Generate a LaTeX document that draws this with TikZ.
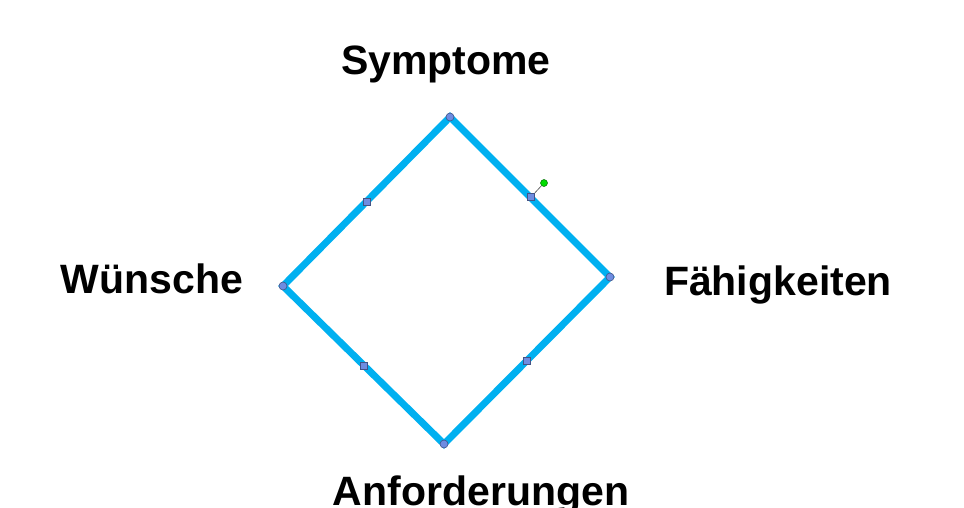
\documentclass[tikz,border=0pt]{standalone}
\usepackage{fontspec}
\setmainfont{Liberation Sans}
\definecolor{rahmen}{RGB}{0,176,240}
\definecolor{griff}{RGB}{110,140,225}
\definecolor{dreh}{RGB}{0,220,0}
\tikzset{
  ecke/.style={circle,draw=griff!60!black,fill=griff,inner sep=0pt,minimum size=8pt,line width=0.6pt},
  mitte/.style={rectangle,draw=griff!60!black,fill=griff,inner sep=0pt,minimum size=7.5pt,line width=0.6pt},
  titel/.style={anchor=base,font=\bfseries\fontsize{41}{48}\selectfont,inner sep=0pt}
}
\begin{document}
\begin{tikzpicture}[x=1pt,y=-1pt]
  \useasboundingbox (0,0) rectangle (964,507);
  \coordinate (o) at (450,117);
  \coordinate (r) at (610,277);
  \coordinate (u) at (444,444);
  \coordinate (l) at (283,286);
  \draw[rahmen,line width=7pt,line join=miter] (o) -- (r) -- (u) -- (l) -- cycle;
  \node[ecke] (eo) at (o) {};
  \node[ecke] (er) at (r) {};
  \node[ecke] (eu) at (u) {};
  \node[ecke] (el) at (l) {};
  \node[mitte] (mor) at (531,197) {};
  \node[mitte] (mru) at (527,361) {};
  \node[mitte] (mul) at (364,366) {};
  \node[mitte] (mlo) at (367,202) {};
  \node[circle,draw=dreh!50!black,fill=dreh,inner sep=0pt,minimum size=7pt,line width=0.5pt] (d) at (544,183) {};
  \draw[black!70,line width=0.6pt] (mor) -- (d);
  \node[titel] (symptome) at (446,74) {Symptome};
  \node[titel] (wuensche) at (152,293) {Wünsche};
  \node[titel] (faehig) at (778,295) {Fähigkeiten};
  \node[titel] (anford) at (481,505) {Anforderungen};
\end{tikzpicture}
\end{document}
